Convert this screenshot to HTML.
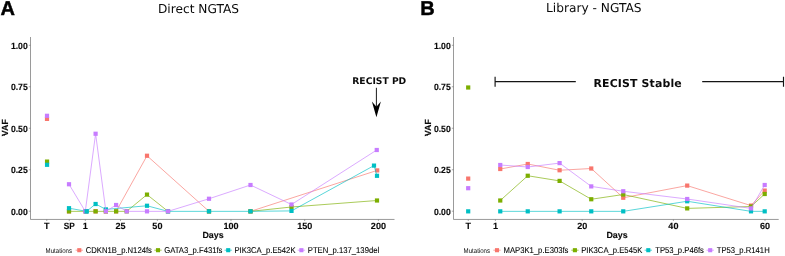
<!DOCTYPE html>
<html lang="en">
<head>
<meta charset="utf-8">
<title>NGTAS VAF over time</title>
<style>
html,body{margin:0;padding:0;background:#fff;}
body{width:785px;height:256px;overflow:hidden;}
svg{display:block;}
text{fill:#0a0a0a;text-rendering:geometricPrecision;}
.t{font-family:"Liberation Sans",Arial,Helvetica,sans-serif;font-weight:bold;font-size:9.05px;stroke:#0a0a0a;stroke-width:0.12px;}
.ax{font-family:"Liberation Sans",Arial,Helvetica,sans-serif;font-weight:bold;font-size:8.9px;stroke:#0a0a0a;stroke-width:0.12px;}
.pl{font-family:"Liberation Sans",Arial,Helvetica,sans-serif;font-weight:bold;font-size:20px;fill:#000;stroke:#000;stroke-width:0.45px;}
.ti{font-family:"DejaVu Sans","Liberation Sans",sans-serif;font-size:12.2px;}
.an{font-family:"DejaVu Sans","Liberation Sans",sans-serif;font-weight:bold;}
.lt{font-family:"Liberation Sans",Arial,Helvetica,sans-serif;font-size:6.1px;}
.ll{font-family:"Liberation Sans",Arial,Helvetica,sans-serif;font-size:7.7px;fill:#000;stroke:#000;stroke-width:0.08px;}
</style>
</head>
<body>
<svg width="785" height="256" viewBox="0 0 785 256">
<rect width="785" height="256" fill="#ffffff"/>

<!-- Panel A -->
<text class="pl" x="0.4" y="14.6">A</text>
<text class="ti" x="198.5" y="13.4" text-anchor="middle">Direct NGTAS</text>
<path d="M30.50 37V219.45H394.50" fill="none" stroke="#6f6f6f" stroke-width="0.7"/>
<path d="M30.50 45.30h-1.7" stroke="#6f6f6f" stroke-width="0.6"/>
<text class="t" transform="translate(27.70,48.65) scale(0.955,1)" text-anchor="end">1.00</text>
<path d="M30.50 86.75h-1.7" stroke="#6f6f6f" stroke-width="0.6"/>
<text class="t" transform="translate(27.70,90.10) scale(0.955,1)" text-anchor="end">0.75</text>
<path d="M30.50 128.25h-1.7" stroke="#6f6f6f" stroke-width="0.6"/>
<text class="t" transform="translate(27.70,131.60) scale(0.955,1)" text-anchor="end">0.50</text>
<path d="M30.50 169.75h-1.7" stroke="#6f6f6f" stroke-width="0.6"/>
<text class="t" transform="translate(27.70,173.10) scale(0.955,1)" text-anchor="end">0.25</text>
<path d="M30.50 211.20h-1.7" stroke="#6f6f6f" stroke-width="0.6"/>
<text class="t" transform="translate(27.70,214.55) scale(0.955,1)" text-anchor="end">0.00</text>
<path d="M46.75 219.45v1.6" stroke="#6f6f6f" stroke-width="0.6"/>
<text class="t" transform="translate(46.75,228.5) scale(1,1)" text-anchor="middle">T</text>
<path d="M69.25 219.45v1.6" stroke="#6f6f6f" stroke-width="0.6"/>
<text class="t" transform="translate(69.25,228.5) scale(0.92,1)" text-anchor="middle">SP</text>
<path d="M85.30 219.45v1.6" stroke="#6f6f6f" stroke-width="0.6"/>
<text class="t" transform="translate(85.30,228.5) scale(1,1)" text-anchor="middle">1</text>
<path d="M120.50 219.45v1.6" stroke="#6f6f6f" stroke-width="0.6"/>
<text class="t" transform="translate(120.50,228.5) scale(1,1)" text-anchor="middle">25</text>
<path d="M157.40 219.45v1.6" stroke="#6f6f6f" stroke-width="0.6"/>
<text class="t" transform="translate(157.40,228.5) scale(1,1)" text-anchor="middle">50</text>
<path d="M231.00 219.45v1.6" stroke="#6f6f6f" stroke-width="0.6"/>
<text class="t" transform="translate(231.00,228.5) scale(1,1)" text-anchor="middle">100</text>
<path d="M304.70 219.45v1.6" stroke="#6f6f6f" stroke-width="0.6"/>
<text class="t" transform="translate(304.70,228.5) scale(1,1)" text-anchor="middle">150</text>
<path d="M378.40 219.45v1.6" stroke="#6f6f6f" stroke-width="0.6"/>
<text class="t" transform="translate(378.40,228.5) scale(1,1)" text-anchor="middle">200</text>
<text class="ax" transform="translate(7.6,127.6) rotate(-90)" text-anchor="middle">VAF</text>
<text class="ax" x="213" y="237.6" text-anchor="middle">Days</text>
<polyline fill="none" stroke="#F8766D" stroke-width="0.65" stroke-linejoin="round" points="116.10,211.35 147.00,155.75 209.00,211.35"/>
<polyline fill="none" stroke="#F8766D" stroke-width="0.65" stroke-linejoin="round" points="250.50,211.35 377.20,170.40"/>
<rect x="44.90" y="116.80" width="4.2" height="4.2" fill="#F8766D"/>
<rect x="66.90" y="209.25" width="4.2" height="4.2" fill="#F8766D"/>
<rect x="83.60" y="209.25" width="4.2" height="4.2" fill="#F8766D"/>
<rect x="93.50" y="209.25" width="4.2" height="4.2" fill="#F8766D"/>
<rect x="103.80" y="209.25" width="4.2" height="4.2" fill="#F8766D"/>
<rect x="114.00" y="209.25" width="4.2" height="4.2" fill="#F8766D"/>
<rect x="144.90" y="153.65" width="4.2" height="4.2" fill="#F8766D"/>
<rect x="206.90" y="209.25" width="4.2" height="4.2" fill="#F8766D"/>
<rect x="248.40" y="209.25" width="4.2" height="4.2" fill="#F8766D"/>
<rect x="375.10" y="168.30" width="4.2" height="4.2" fill="#F8766D"/>
<polyline fill="none" stroke="#7CAE00" stroke-width="0.65" stroke-linejoin="round" points="69.00,211.35 85.70,211.35 95.60,211.35 105.90,211.35 116.10,211.35 126.70,211.35 147.00,194.60 168.00,211.35"/>
<polyline fill="none" stroke="#7CAE00" stroke-width="0.65" stroke-linejoin="round" points="250.50,211.35 291.50,207.00 377.00,200.50"/>
<rect x="44.95" y="159.50" width="4.2" height="4.2" fill="#7CAE00"/>
<rect x="66.90" y="209.25" width="4.2" height="4.2" fill="#7CAE00"/>
<rect x="83.60" y="209.25" width="4.2" height="4.2" fill="#7CAE00"/>
<rect x="93.50" y="209.25" width="4.2" height="4.2" fill="#7CAE00"/>
<rect x="103.80" y="209.25" width="4.2" height="4.2" fill="#7CAE00"/>
<rect x="114.00" y="209.25" width="4.2" height="4.2" fill="#7CAE00"/>
<rect x="124.60" y="209.25" width="4.2" height="4.2" fill="#7CAE00"/>
<rect x="144.90" y="192.50" width="4.2" height="4.2" fill="#7CAE00"/>
<rect x="165.90" y="209.25" width="4.2" height="4.2" fill="#7CAE00"/>
<rect x="206.90" y="209.25" width="4.2" height="4.2" fill="#7CAE00"/>
<rect x="248.40" y="209.25" width="4.2" height="4.2" fill="#7CAE00"/>
<rect x="289.40" y="204.90" width="4.2" height="4.2" fill="#7CAE00"/>
<rect x="374.90" y="198.40" width="4.2" height="4.2" fill="#7CAE00"/>
<polyline fill="none" stroke="#00BFC4" stroke-width="0.65" stroke-linejoin="round" points="69.00,208.20 86.60,211.35 95.60,204.00 105.90,209.40 147.00,205.75 168.00,211.35 209.00,211.35 250.50,211.35 291.50,210.90 374.00,165.60 377.00,175.80"/>
<rect x="44.95" y="162.70" width="4.2" height="4.2" fill="#00BFC4"/>
<rect x="66.90" y="206.10" width="4.2" height="4.2" fill="#00BFC4"/>
<rect x="84.50" y="209.25" width="4.2" height="4.2" fill="#00BFC4"/>
<rect x="93.50" y="201.90" width="4.2" height="4.2" fill="#00BFC4"/>
<rect x="103.80" y="207.30" width="4.2" height="4.2" fill="#00BFC4"/>
<rect x="144.90" y="203.65" width="4.2" height="4.2" fill="#00BFC4"/>
<rect x="165.90" y="209.25" width="4.2" height="4.2" fill="#00BFC4"/>
<rect x="206.90" y="209.25" width="4.2" height="4.2" fill="#00BFC4"/>
<rect x="248.40" y="209.25" width="4.2" height="4.2" fill="#00BFC4"/>
<rect x="289.40" y="208.80" width="4.2" height="4.2" fill="#00BFC4"/>
<rect x="371.90" y="163.50" width="4.2" height="4.2" fill="#00BFC4"/>
<rect x="374.90" y="173.70" width="4.2" height="4.2" fill="#00BFC4"/>
<polyline fill="none" stroke="#C77CFF" stroke-width="0.65" stroke-linejoin="round" points="69.00,184.25 85.30,211.35 95.60,133.75 105.90,211.35 116.10,205.00 126.70,211.35 147.00,211.35 168.00,211.35 209.00,198.75 250.50,185.00 291.50,204.50 376.75,150.00"/>
<rect x="44.90" y="113.70" width="4.2" height="4.2" fill="#C77CFF"/>
<rect x="66.90" y="182.15" width="4.2" height="4.2" fill="#C77CFF"/>
<rect x="83.20" y="209.25" width="4.2" height="4.2" fill="#C77CFF"/>
<rect x="93.50" y="131.65" width="4.2" height="4.2" fill="#C77CFF"/>
<rect x="103.80" y="209.25" width="4.2" height="4.2" fill="#C77CFF"/>
<rect x="114.00" y="202.90" width="4.2" height="4.2" fill="#C77CFF"/>
<rect x="124.60" y="209.25" width="4.2" height="4.2" fill="#C77CFF"/>
<rect x="144.90" y="209.25" width="4.2" height="4.2" fill="#C77CFF"/>
<rect x="165.90" y="209.25" width="4.2" height="4.2" fill="#C77CFF"/>
<rect x="206.90" y="196.65" width="4.2" height="4.2" fill="#C77CFF"/>
<rect x="248.40" y="182.90" width="4.2" height="4.2" fill="#C77CFF"/>
<rect x="289.40" y="202.40" width="4.2" height="4.2" fill="#C77CFF"/>
<rect x="374.65" y="147.90" width="4.2" height="4.2" fill="#C77CFF"/>
<rect x="84.50" y="209.25" width="4.2" height="4.2" fill="#00BFC4"/>
<text class="an" x="352.3" y="84" font-size="9.2px">RECIST PD</text>
<path d="M376.4 87.8V108" stroke="#000" stroke-width="0.9" fill="none"/>
<path d="M376.4 117.3L371.9 101.6L376.4 106.8L380.9 101.6Z" fill="#000"/>
<text class="lt" transform="translate(45.60,252.75) scale(1,1.12)">Mutations</text>
<path d="M75.60 250.2h7.4" stroke="#F8766D" stroke-width="0.65"/>
<rect x="77.25" y="248.15" width="4.1" height="4.1" fill="#F8766D"/>
<text class="ll" transform="translate(85.70,252.7) scale(1,1.1)">CDKN1B_p.N124fs</text>
<path d="M154.30 250.2h7.4" stroke="#7CAE00" stroke-width="0.65"/>
<rect x="155.95" y="248.15" width="4.1" height="4.1" fill="#7CAE00"/>
<text class="ll" transform="translate(164.20,252.7) scale(1,1.1)">GATA3_p.F431fs</text>
<path d="M224.50 250.2h7.4" stroke="#00BFC4" stroke-width="0.65"/>
<rect x="226.15" y="248.15" width="4.1" height="4.1" fill="#00BFC4"/>
<text class="ll" transform="translate(234.40,252.7) scale(1,1.1)">PIK3CA_p.E542K</text>
<path d="M297.70 250.2h7.4" stroke="#C77CFF" stroke-width="0.65"/>
<rect x="299.35" y="248.15" width="4.1" height="4.1" fill="#C77CFF"/>
<text class="ll" transform="translate(307.80,252.7) scale(1,1.1)">PTEN_p.137_139del</text>

<!-- Panel B -->
<text class="pl" x="420.2" y="14.6">B</text>
<text class="ti" x="593.8" y="12.2" text-anchor="middle">Library - NGTAS</text>
<path d="M453.50 37V219.45H778.70" fill="none" stroke="#6f6f6f" stroke-width="0.7"/>
<path d="M453.50 45.30h-1.7" stroke="#6f6f6f" stroke-width="0.6"/>
<text class="t" transform="translate(450.70,48.65) scale(0.955,1)" text-anchor="end">1.00</text>
<path d="M453.50 86.75h-1.7" stroke="#6f6f6f" stroke-width="0.6"/>
<text class="t" transform="translate(450.70,90.10) scale(0.955,1)" text-anchor="end">0.75</text>
<path d="M453.50 128.25h-1.7" stroke="#6f6f6f" stroke-width="0.6"/>
<text class="t" transform="translate(450.70,131.60) scale(0.955,1)" text-anchor="end">0.50</text>
<path d="M453.50 169.75h-1.7" stroke="#6f6f6f" stroke-width="0.6"/>
<text class="t" transform="translate(450.70,173.10) scale(0.955,1)" text-anchor="end">0.25</text>
<path d="M453.50 211.20h-1.7" stroke="#6f6f6f" stroke-width="0.6"/>
<text class="t" transform="translate(450.70,214.55) scale(0.955,1)" text-anchor="end">0.00</text>
<path d="M468.25 219.45v1.6" stroke="#6f6f6f" stroke-width="0.6"/>
<text class="t" transform="translate(468.25,228.5) scale(1,1)" text-anchor="middle">T</text>
<path d="M495.40 219.45v1.6" stroke="#6f6f6f" stroke-width="0.6"/>
<text class="t" transform="translate(495.40,228.5) scale(1,1)" text-anchor="middle">1</text>
<path d="M582.20 219.45v1.6" stroke="#6f6f6f" stroke-width="0.6"/>
<text class="t" transform="translate(582.20,228.5) scale(1,1)" text-anchor="middle">20</text>
<path d="M673.40 219.45v1.6" stroke="#6f6f6f" stroke-width="0.6"/>
<text class="t" transform="translate(673.40,228.5) scale(1,1)" text-anchor="middle">40</text>
<path d="M765.00 219.45v1.6" stroke="#6f6f6f" stroke-width="0.6"/>
<text class="t" transform="translate(765.00,228.5) scale(1,1)" text-anchor="middle">60</text>
<text class="ax" transform="translate(430.9,127.6) rotate(-90)" text-anchor="middle">VAF</text>
<text class="ax" x="617" y="237.6" text-anchor="middle">Days</text>
<polyline fill="none" stroke="#F8766D" stroke-width="0.65" stroke-linejoin="round" points="500.25,169.00 527.75,164.00 559.60,170.25 591.25,168.50 623.25,197.75 687.20,185.60 751.00,205.60 764.70,190.60"/>
<rect x="466.10" y="176.50" width="4.2" height="4.2" fill="#F8766D"/>
<rect x="498.15" y="166.90" width="4.2" height="4.2" fill="#F8766D"/>
<rect x="525.65" y="161.90" width="4.2" height="4.2" fill="#F8766D"/>
<rect x="557.50" y="168.15" width="4.2" height="4.2" fill="#F8766D"/>
<rect x="589.15" y="166.40" width="4.2" height="4.2" fill="#F8766D"/>
<rect x="621.15" y="195.65" width="4.2" height="4.2" fill="#F8766D"/>
<rect x="685.10" y="183.50" width="4.2" height="4.2" fill="#F8766D"/>
<rect x="748.90" y="203.50" width="4.2" height="4.2" fill="#F8766D"/>
<rect x="762.60" y="188.50" width="4.2" height="4.2" fill="#F8766D"/>
<polyline fill="none" stroke="#7CAE00" stroke-width="0.65" stroke-linejoin="round" points="500.25,200.50 527.75,175.75 559.60,180.90 591.25,199.25 623.25,194.50 687.20,208.40 751.00,206.50 764.70,194.00"/>
<rect x="466.10" y="85.40" width="4.2" height="4.2" fill="#7CAE00"/>
<rect x="498.15" y="198.40" width="4.2" height="4.2" fill="#7CAE00"/>
<rect x="525.65" y="173.65" width="4.2" height="4.2" fill="#7CAE00"/>
<rect x="557.50" y="178.80" width="4.2" height="4.2" fill="#7CAE00"/>
<rect x="589.15" y="197.15" width="4.2" height="4.2" fill="#7CAE00"/>
<rect x="621.15" y="192.40" width="4.2" height="4.2" fill="#7CAE00"/>
<rect x="685.10" y="206.30" width="4.2" height="4.2" fill="#7CAE00"/>
<rect x="748.90" y="204.40" width="4.2" height="4.2" fill="#7CAE00"/>
<rect x="762.60" y="191.90" width="4.2" height="4.2" fill="#7CAE00"/>
<polyline fill="none" stroke="#00BFC4" stroke-width="0.65" stroke-linejoin="round" points="500.25,211.35 527.75,211.35 559.60,211.35 591.25,211.35 623.25,211.35 687.20,201.25 751.00,211.35 764.70,211.35"/>
<rect x="466.10" y="209.25" width="4.2" height="4.2" fill="#00BFC4"/>
<rect x="498.15" y="209.25" width="4.2" height="4.2" fill="#00BFC4"/>
<rect x="525.65" y="209.25" width="4.2" height="4.2" fill="#00BFC4"/>
<rect x="557.50" y="209.25" width="4.2" height="4.2" fill="#00BFC4"/>
<rect x="589.15" y="209.25" width="4.2" height="4.2" fill="#00BFC4"/>
<rect x="621.15" y="209.25" width="4.2" height="4.2" fill="#00BFC4"/>
<rect x="685.10" y="199.15" width="4.2" height="4.2" fill="#00BFC4"/>
<rect x="748.90" y="209.25" width="4.2" height="4.2" fill="#00BFC4"/>
<rect x="762.60" y="209.25" width="4.2" height="4.2" fill="#00BFC4"/>
<polyline fill="none" stroke="#C77CFF" stroke-width="0.65" stroke-linejoin="round" points="500.25,165.00 527.75,167.00 559.60,163.10 591.25,186.40 623.25,191.25 687.20,199.00 751.00,208.40 764.70,185.00"/>
<rect x="466.10" y="186.10" width="4.2" height="4.2" fill="#C77CFF"/>
<rect x="498.15" y="162.90" width="4.2" height="4.2" fill="#C77CFF"/>
<rect x="525.65" y="164.90" width="4.2" height="4.2" fill="#C77CFF"/>
<rect x="557.50" y="161.00" width="4.2" height="4.2" fill="#C77CFF"/>
<rect x="589.15" y="184.30" width="4.2" height="4.2" fill="#C77CFF"/>
<rect x="621.15" y="189.15" width="4.2" height="4.2" fill="#C77CFF"/>
<rect x="685.10" y="196.90" width="4.2" height="4.2" fill="#C77CFF"/>
<rect x="748.90" y="206.30" width="4.2" height="4.2" fill="#C77CFF"/>
<rect x="762.60" y="182.90" width="4.2" height="4.2" fill="#C77CFF"/>
<path d="M495.1 76.8V86.8M495.1 81.55H575.8M702.2 81.55H783.5M783.5 76.8V86.8" stroke="#141414" stroke-width="1.15" fill="none"/>
<text class="an" x="593.5" y="86.6" font-size="10.9px" letter-spacing="0.16">RECIST Stable</text>
<text class="lt" transform="translate(463.60,252.75) scale(1,1.12)">Mutations</text>
<path d="M493.30 250.2h7.4" stroke="#F8766D" stroke-width="0.65"/>
<rect x="494.95" y="248.15" width="4.1" height="4.1" fill="#F8766D"/>
<text class="ll" transform="translate(503.50,252.7) scale(1,1.1)">MAP3K1_p.E303fs</text>
<path d="M571.20 250.2h7.4" stroke="#7CAE00" stroke-width="0.65"/>
<rect x="572.85" y="248.15" width="4.1" height="4.1" fill="#7CAE00"/>
<text class="ll" transform="translate(581.20,252.7) scale(1,1.1)">PIK3CA_p.E545K</text>
<path d="M644.60 250.2h7.4" stroke="#00BFC4" stroke-width="0.65"/>
<rect x="646.25" y="248.15" width="4.1" height="4.1" fill="#00BFC4"/>
<text class="ll" transform="translate(655.20,252.7) scale(1,1.1)">TP53_p.P46fs</text>
<path d="M706.50 250.2h7.4" stroke="#C77CFF" stroke-width="0.65"/>
<rect x="708.15" y="248.15" width="4.1" height="4.1" fill="#C77CFF"/>
<text class="ll" transform="translate(716.70,252.7) scale(1,1.1)">TP53_p.R141H</text>
</svg>
</body>
</html>
